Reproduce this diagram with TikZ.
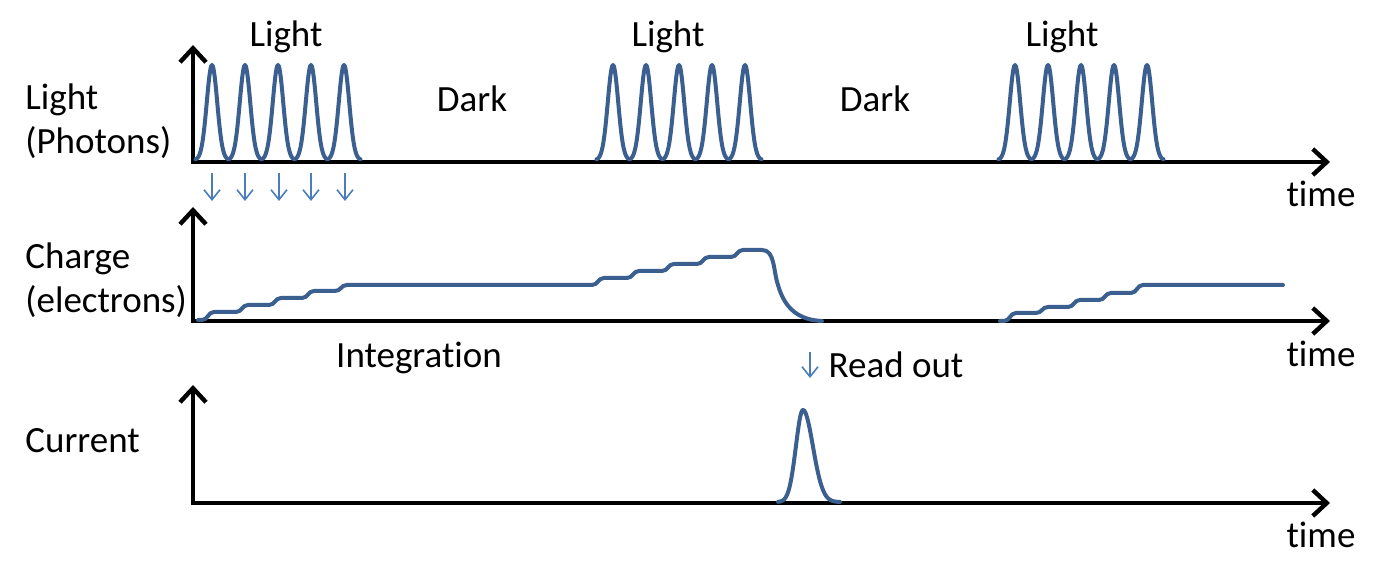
\documentclass[tikz,border=0pt]{standalone}
\usepackage{fontspec}
\setmainfont{Carlito}[Ligatures={NoCommon}]
\usepackage{xcolor}
\usetikzlibrary{arrows.meta}

\definecolor{sigblue}{RGB}{59,96,143}
\definecolor{hintblue}{RGB}{74,126,187}

% five light pulses, first peak at #1
\newcommand{\pulsetrain}[1]{%
  \foreach \k in {0,...,4}{%
    \pgfmathsetmacro{\c}{#1+33*\k}
    \pgfmathsetmacro{\lo}{\c-16.5}
    \pgfmathsetmacro{\hi}{\c+16.5}
    \draw[signal] plot[domain=\lo:\hi, samples=41, smooth] (\x, {160-95*exp(-((\x-\c)/7.4)^2)});
  }%
}

\begin{document}
\begin{tikzpicture}[
    x=0.5pt, y=-0.5pt,
    % Styles
    axisline/.style={line width=2.2pt, draw=black, {Straight Barb[length=7pt, width=13pt]}-{Straight Barb[length=7pt, width=13pt]}},
    signal/.style={line width=2pt, draw=sigblue, line cap=round, line join=round},
    hintarrow/.style={line width=0.8pt, draw=hintblue, -{Straight Barb[length=5pt, width=8pt]}},
    txt/.style={font=\fontsize{18.5}{22}\selectfont, inner sep=0pt, align=left}
]
\useasboundingbox (0,0) rectangle (1383,581);

% Axes
\coordinate (o1) at (193,162);
\coordinate (o2) at (193,321);
\coordinate (o3) at (193,503);
\draw[axisline] (193,45) -- (o1) -- (1330,162);
\draw[axisline] (193,207) -- (o2) -- (1330,321);
\draw[axisline] (193,385) -- (o3) -- (1330,503);

% Axis titles
\node[txt, anchor=west] (lightax) at (25,121) {Light\\(Photons)};
\node[txt, anchor=west] (chargeax) at (25,280) {Charge\\(electrons)};
\node[txt, anchor=west] (currentax) at (25,441) {Current};
\node[txt] (time1) at (1321,194) {time};
\node[txt] (time2) at (1321,354) {time};
\node[txt] (time3) at (1321,535) {time};

% Light / dark phases
\node[txt] (light1) at (286,37) {Light};
\node[txt] (dark1) at (472,99) {Dark};
\node[txt] (light2) at (668,37) {Light};
\node[txt] (dark2) at (875,99) {Dark};
\node[txt] (light3) at (1062,37) {Light};

\pulsetrain{212}
\pulsetrain{613}
\pulsetrain{1015}

% Photons to charge
\foreach \px in {212,245,279,311,345}
  \draw[hintarrow] (\px,173) -- (\px,201);

% Charge curve
\draw[signal] (198,320)
  foreach \s/\a/\b in {208/320/312, 242/312/305, 275/305/298, 308/298/291, 341/291/285}
    { -- (\s-6,\a) .. controls (\s,\a) and (\s,\b) .. (\s+6,\b) }
  -- (592,285)
  foreach \s/\a/\b in {598/285/278, 633/278/271, 668/271/264, 703/264/257, 737/257/250}
    { -- (\s-6,\a) .. controls (\s,\a) and (\s,\b) .. (\s+6,\b) }
  -- (762,250) .. controls (775,250) and (773,270) .. (778,285)
  .. controls (785,310) and (800,320) .. (822,321);
\draw[signal] (1000,321)
  foreach \s/\a/\b in {1010/321/313, 1042/313/307, 1074/307/300, 1105/300/293, 1137/293/285}
    { -- (\s-6,\a) .. controls (\s,\a) and (\s,\b) .. (\s+6,\b) }
  -- (1283,285);

\node[txt] (integ) at (419,358) {Integration};
\node[txt] (readout) at (896,365) {Read out};
\draw[hintarrow] (810,352) -- (810,378);

% Read-out current
\draw[signal] plot[domain=778:803, samples=30, smooth] (\x, {502-92*exp(-((\x-803)/10)^2)})
  -- plot[domain=803:840, samples=30, smooth] (\x, {502-92*exp(-((\x-803)/14)^2)});

\end{tikzpicture}
\end{document}
